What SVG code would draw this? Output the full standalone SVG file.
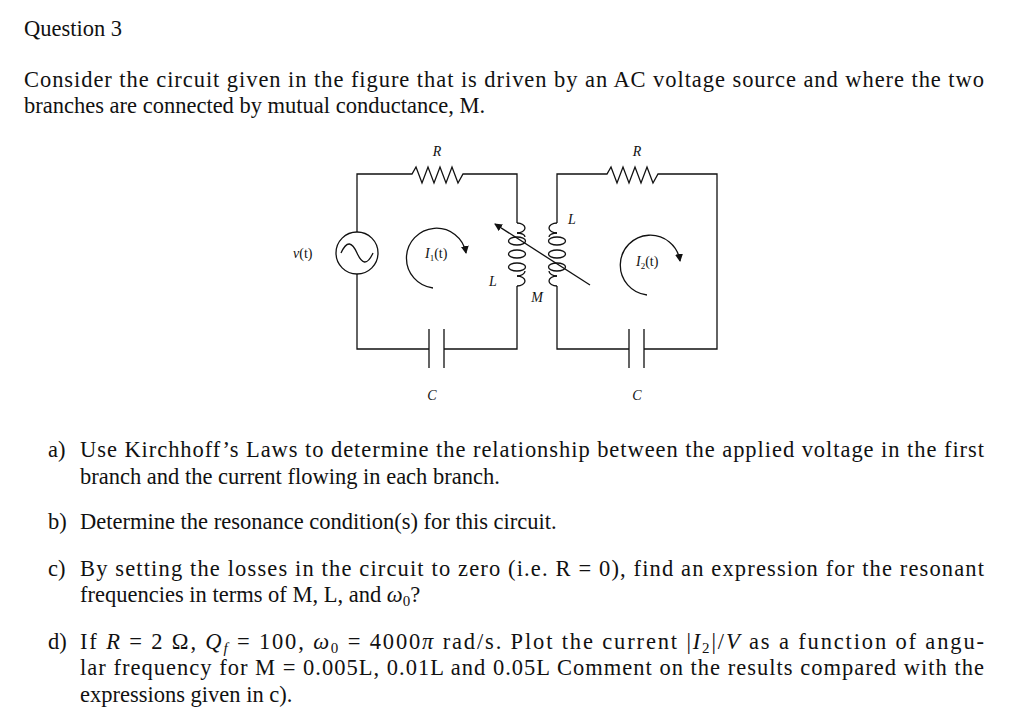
<svg xmlns="http://www.w3.org/2000/svg" width="1024" height="717" viewBox="0 0 1024 717">
<style>
.t{font-family:"Liberation Serif","DejaVu Serif",serif;font-size:22.5px;fill:#111}
.s{font-family:"Liberation Serif",serif;font-size:14px;fill:#111}
.i{font-style:italic}
.w{fill:none;stroke:#111;stroke-width:1.3}
</style>
<defs><marker id="ah" markerWidth="8" markerHeight="8" refX="7" refY="4" orient="auto" markerUnits="userSpaceOnUse"><path d="M0,0 L8,4 L0,8 Z" fill="#111"/></marker></defs>
<rect width="1024" height="717" fill="#fff"/>
<text class="t" x="24" y="36">Question 3</text>
<text class="t" x="24" y="87" textLength="960" lengthAdjust="spacing">Consider the circuit given in the figure that is driven by an AC voltage source and where the two</text>
<text class="t" x="24" y="113">branches are connected by mutual conductance, M.</text>
<g id="connectors">
<path class="w" d="M357,232 V174 H412 l4,-7 l6,16 l6,-16 l6,16 l6,-16 l6,16 l6,-16 l6,16 l5,-9 H517 V223"/>
<path class="w" d="M517,286 V349 H444 M429,349 H357 V274"/>
<path class="w" d="M429,329 V368 M444,329 V368"/>
<path class="w" d="M557,223 V174 H607 l4,-7 l6,16 l6,-16 l6,16 l6,-16 l6,16 l6,-16 l6,16 l5,-9 H717 V349 H644 M629,349 H557 V286"/>
<path class="w" d="M629,329 V368 M644,329 V368"/>
<g id="coil1" class="w"><path class="w" d="M517,223 a8,5 0 0 1 0,10 M517,276 a8,5 0 0 1 0,10"/>
<ellipse class="w" cx="517" cy="241" rx="8.5" ry="4"/><ellipse class="w" cx="517" cy="254" rx="8.5" ry="4"/><ellipse class="w" cx="517" cy="267" rx="8.5" ry="4"/>
<path class="w" d="M517,233 a8,4 0 0 1 8,4 M525,271 a8,5 0 0 1 -8,5"/></g>
<g id="coil2"><path class="w" d="M557,223 a8,5 0 0 0 0,10 M557,276 a8,5 0 0 0 0,10"/>
<ellipse class="w" cx="557" cy="241" rx="8.5" ry="4"/><ellipse class="w" cx="557" cy="254" rx="8.5" ry="4"/><ellipse class="w" cx="557" cy="267" rx="8.5" ry="4"/>
<path class="w" d="M557,233 a8,4 0 0 0 -8,4 M549,271 a8,5 0 0 0 8,5"/></g>
<line class="w" x1="590" y1="285" x2="495" y2="224" marker-end="url(#ah)"/>
<path class="w" d="M433,288 A30,30 0 1 1 466,253" marker-end="url(#ah)"/>
<path class="w" d="M647,295 A30,30 0 1 1 680,261" marker-end="url(#ah)"/>
</g>
<g id="source"><circle class="w" cx="357" cy="253" r="21"/><path class="w" d="M341,253 C347,240 352,242 357,253 C362,264 367,266 373,253"/></g>
<text class="s i" x="437" y="156" text-anchor="middle">R</text>
<text class="s i" x="637" y="156" text-anchor="middle">R</text>
<text class="s" x="293" y="258"><tspan class="i">v</tspan>(t)</text>
<text class="s" x="425" y="258"><tspan class="i">I</tspan><tspan font-size="9" dy="3">1</tspan><tspan dy="-3">(t)</tspan></text>
<text class="s" x="636" y="266"><tspan class="i">I</tspan><tspan font-size="9" dy="3">2</tspan><tspan dy="-3">(t)</tspan></text>
<text class="s i" x="572" y="224" text-anchor="middle">L</text>
<text class="s i" x="493" y="286" text-anchor="middle">L</text>
<text class="s i" x="537" y="302" text-anchor="middle">M</text>
<text class="s i" x="432" y="400" text-anchor="middle">C</text>
<text class="s i" x="637" y="400" text-anchor="middle">C</text>
<text class="t" x="48" y="457">a)</text>
<text class="t" x="80" y="457" textLength="904" lengthAdjust="spacing">Use Kirchhoff’s Laws to determine the relationship between the applied voltage in the first</text>
<text class="t" x="80" y="484">branch and the current flowing in each branch.</text>
<text class="t" x="48" y="529">b)</text>
<text class="t" x="80" y="529">Determine the resonance condition(s) for this circuit.</text>
<text class="t" x="48" y="576">c)</text>
<text class="t" x="80" y="576" textLength="904" lengthAdjust="spacing">By setting the losses in the circuit to zero (i.e.  R = 0), find an expression for the resonant</text>
<text class="t" x="80" y="602">frequencies in terms of M, L, and <tspan class="i">ω</tspan><tspan font-size="15" dy="4">0</tspan><tspan dy="-4">?</tspan></text>
<text class="t" x="48" y="649">d)</text>
<text class="t" x="80" y="649" textLength="904" lengthAdjust="spacing">If <tspan class="i">R</tspan> = 2 Ω, <tspan class="i">Q</tspan><tspan font-size="15" dy="4" class="i">f</tspan><tspan dy="-4"> = 100, </tspan><tspan class="i">ω</tspan><tspan font-size="15" dy="4">0</tspan><tspan dy="-4"> = 4000</tspan><tspan class="i">π</tspan> rad/s.  Plot the current |<tspan class="i">I</tspan><tspan font-size="15" dy="4">2</tspan><tspan dy="-4">|/</tspan><tspan class="i">V</tspan> as a function of angu-</text>
<text class="t" x="80" y="675" textLength="904" lengthAdjust="spacing">lar frequency for M = 0.005L, 0.01L and 0.05L Comment on the results compared with the</text>
<text class="t" x="80" y="702">expressions given in c).</text>
</svg>
